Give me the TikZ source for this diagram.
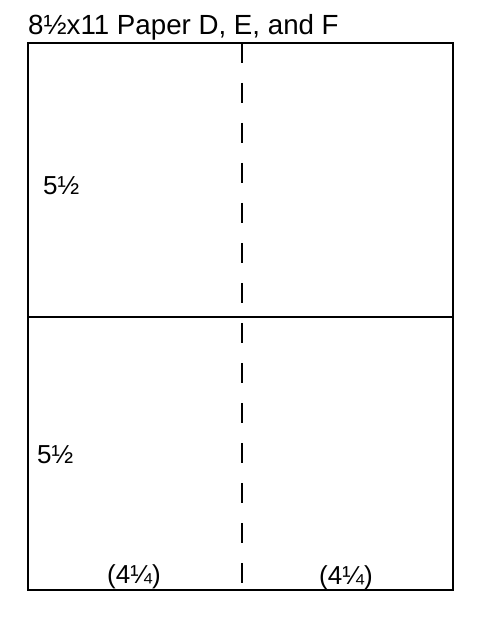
\documentclass[tikz,border=0pt]{standalone}
\usepackage{fontspec}
\setmainfont{Liberation Sans}
\begin{document}
\begin{tikzpicture}[x=1pt,y=-1pt,
  frame/.style={line width=1.8pt,draw=black},
  fold/.style={line width=1.8pt,draw=black,dash pattern=on 20pt off 20pt},
  lbl/.style={anchor=base west,inner sep=0pt,font=\fontsize{26}{30}\selectfont},
  ttl/.style={anchor=base west,inner sep=0pt,font=\fontsize{27.7}{30}\selectfont}]
\useasboundingbox (0,0) rectangle (484,620);
\coordinate (tl) at (28,43);
\coordinate (br) at (453,590);
\coordinate (ml) at (28,317);
\coordinate (mr) at (453,317);
\coordinate (ft) at (242,43);
\coordinate (fb) at (242,590);
\draw[frame] (tl) rectangle (br);
\draw[frame] (ml) -- (mr);
\draw[fold] (ft) -- (fb);
\node[ttl] (title) at (28,35) {8½x11 Paper D, E, and F};
\node[lbl] (h1) at (43,195) {5½};
\node[lbl] (h2) at (37,463) {5½};
\node[lbl] (w1) at (107,583) {(4¼)};
\node[lbl] (w2) at (319,584) {(4¼)};
\end{tikzpicture}
\end{document}
